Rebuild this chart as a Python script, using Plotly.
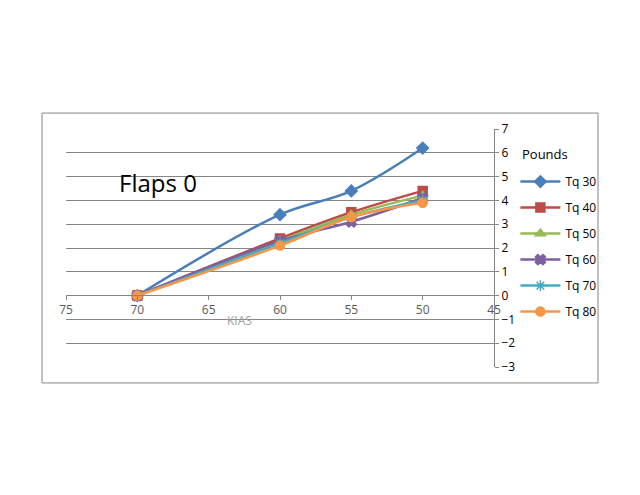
import plotly.graph_objects as go

kias = [70, 60, 55, 50]
names = ["Tq 30", "Tq 40", "Tq 50", "Tq 60", "Tq 70", "Tq 80"]
tq30 = [0, 3.4, 4.4, 6.2]
tq40 = [0, 2.4, 3.5, 4.4]
tq50 = [0, 2.3, 3.4, 4.2]
tq60 = [0, 2.3, 3.1, 4.1]
tq70 = [0, 2.2, 3.3, 4.0]
tq80 = [0, 2.1, 3.3, 3.9]
series = [tq30, tq40, tq50, tq60, tq70, tq80]

colors = ["#4A7EBB", "#BE4B48", "#98B954", "#7D60A0", "#46AAC5", "#F79646"]
symbols = ["diamond", "square", "triangle-up", "x", "asterisk-open", "circle"]

fig = go.Figure()
for name, ys, c, s in zip(names, series, colors, symbols):
    fig.add_trace(go.Scatter(
        x=kias, y=ys, name=name, legendgroup=name, mode="lines+markers",
        line_shape="spline", line=dict(color=c, width=2.5),
        marker=dict(symbol=s, size=9, color=c, line=dict(color=c, width=1.5)),
    ))

fig.update_layout(
    width=640, height=495, paper_bgcolor="white", plot_bgcolor="white",
    margin=dict(l=58, r=154, t=121, b=136),
    font=dict(family="Open Sans, Arial", size=12, color="#000"),
    showlegend=True,
    legend=dict(x=1.05, y=0.84, yanchor="top", tracegroupgap=7,
                font=dict(size=12), itemwidth=40, bgcolor="rgba(0,0,0,0)"),
    xaxis=dict(range=[75, 45], autorange=False, dtick=5, anchor="free",
               position=0.3025, showgrid=False, showline=True,
               linecolor="#868686", ticks="outside", ticklen=4,
               tickcolor="#868686", tickfont=dict(color="#595959")),
    yaxis=dict(range=[-3, 7], dtick=1, side="right", showgrid=True,
               gridcolor="#868686", showline=True, linecolor="#868686",
               ticks="outside", ticklen=4, tickcolor="#868686", zeroline=False),
    shapes=[dict(type="rect", xref="paper", yref="paper",
                 x0=-0.056, x1=1.243, y0=-0.067, y1=1.067,
                 line=dict(color="#868686", width=1))],
    annotations=[
        dict(text="Flaps 0", xref="paper", yref="paper", x=0.12, y=0.855,
             showarrow=False, font=dict(size=24)),
        dict(text="Pounds", xref="paper", yref="paper", x=1.06, y=0.94,
             xanchor="left", showarrow=False, font=dict(size=13)),
        dict(text="KIAS", xref="paper", yref="paper", x=0.405, y=0.15,
             showarrow=False, font=dict(size=12, color="#A0A0A0")),
    ],
)

fig.write_html("out.html")
